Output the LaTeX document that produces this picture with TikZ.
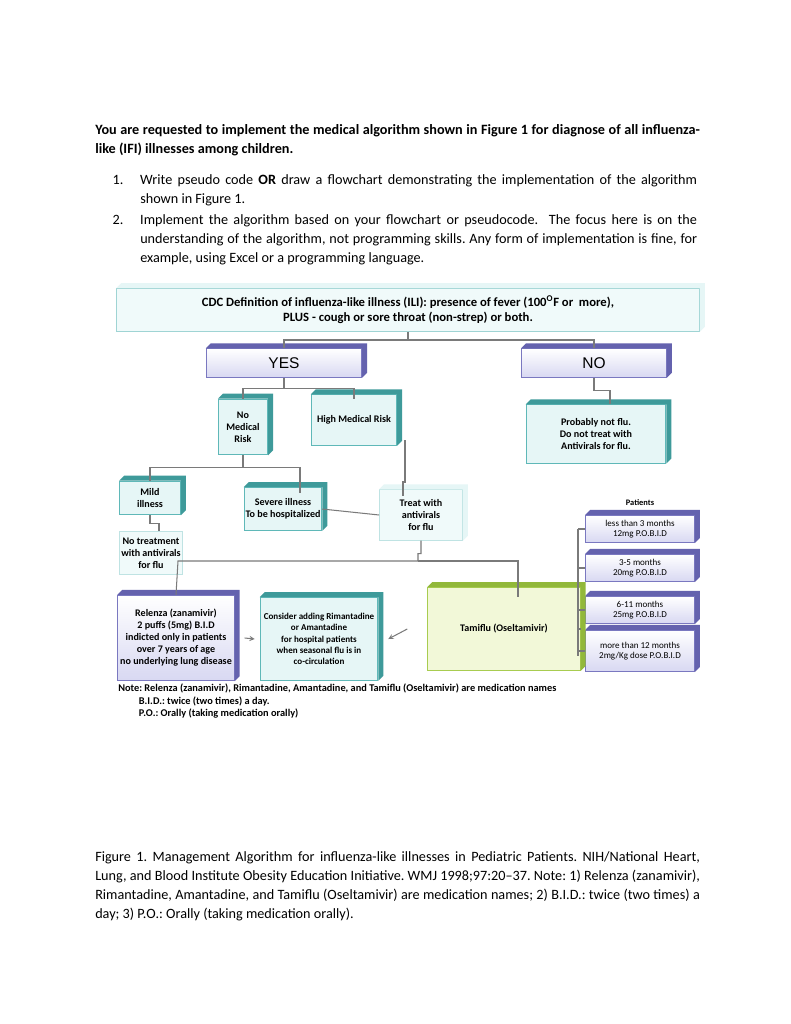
\documentclass[tikz,border=0pt]{standalone}
\usepackage{fontspec}
\setmainfont{Carlito}
\setsansfont{Liberation Sans}
\usetikzlibrary{calc}
\frenchspacing
\newcommand\pagefont{\fontsize{11}{14.7}\selectfont}
\definecolor{tealline}{HTML}{5FB8B8}
\definecolor{tealfill}{HTML}{E6F6F6}
\definecolor{tealdark}{HTML}{3E9A9A}
\definecolor{lavline}{HTML}{7A78C0}
\definecolor{lavfill}{HTML}{D8D8F2}
\definecolor{lavdark}{HTML}{6462AE}
\definecolor{limeline}{HTML}{A8CC50}
\definecolor{limefill}{HTML}{F2F8D8}
\definecolor{limedark}{HTML}{92B83A}
\definecolor{wire}{HTML}{7A7A7A}
\tikzset{
  pagetext/.style={anchor=north west,inner sep=0pt,align=justify,font=\pagefont},
  chartbox/.style={draw,line width=0.8pt,inner sep=1pt,align=center,font=\fontsize{7.8}{9.3}\selectfont\bfseries},
  tealbox/.style={chartbox,draw=tealline,fill=tealfill},
  lavbox/.style={chartbox,draw=lavline,top color=white,bottom color=lavfill},
  limebox/.style={chartbox,draw=limeline,fill=limefill},
  wire/.style={draw=wire,line width=0.8pt},
}
\begin{document}
\begin{tikzpicture}[x=0.774pt,y=-0.774pt]
\useasboundingbox[fill=white] (0,0) rectangle (791,1024);
% page text
\node (intro) [pagetext,text width=468pt] at (95,124) {\bfseries You are requested to implement the medical algorithm shown in Figure 1 for diagnose of all influenza-\linebreak like (IFI) illnesses among children.};
\node (item1) [pagetext,text width=431pt] at (140,174) {\hyphenpenalty=10000 \llap{1.\hspace{13pt}}Write pseudo code \textbf{OR} draw a flowchart demonstrating the implementation of the algorithm shown in Figure 1.};
\node (item2) [pagetext,text width=431pt] at (140,214) {\hyphenpenalty=10000 \llap{2.\hspace{13pt}}Implement the algorithm based on your flowchart or pseudocode.\ \ The focus here is on the\linebreak understanding of the algorithm, not programming skills. Any form of implementation is fine, for example, using Excel or a programming language.};
% chart boxes
\node (cdc) [chartbox,draw=tealline!60,fill=tealfill!60,minimum width=451pt,minimum height=33pt,font=\fontsize{9.8}{12}\selectfont\bfseries] at (408,310) {CDC Definition of influenza-like illness (ILI): presence of fever (100\textsuperscript{O}F or\ \ more),\\ PLUS - cough or sore throat (non-strep) or both.};
\node (yes) [lavbox,minimum width=120pt,minimum height=22pt,font=\fontsize{12}{14}\sffamily] at (284,363) {YES};
\node (no) [lavbox,minimum width=112pt,minimum height=22pt,font=\fontsize{12}{14}\sffamily] at (594,363) {NO};
\node (nomed) [tealbox,minimum width=38pt,minimum height=43pt] at (243,427) {No\\Medical\\Risk};
\node (highmed) [tealbox,minimum width=66pt,minimum height=39pt] at (354,420) {High Medical Risk};
\node (notflu) [tealbox,minimum width=108pt,minimum height=45pt] at (596,434) {Probably not flu.\\Do not treat with\\Antivirals for flu.};
\node (mild) [tealbox,minimum width=47pt,minimum height=26pt] at (150,498) {Mild\\illness};
\node (notreat) [chartbox,draw=tealline!40,fill=tealfill!60,minimum width=49pt,minimum height=34pt] at (151,553) {No treatment\\with antivirals\\for flu};
\node (severe) [tealbox,minimum width=57pt,minimum height=33pt] at (283,509) {Severe illness\\To be hospitalized};
\node (treat) [chartbox,draw=tealline!40,fill=tealfill!60,minimum width=64pt,minimum height=39pt] at (421,515) {Treat with\\antivirals\\for flu};
\node (patients) [font=\fontsize{6.5}{8}\selectfont\bfseries,inner sep=0pt] at (640,503) {Patients};
\node (p1) [lavbox,minimum width=84pt,minimum height=21pt,font=\fontsize{7}{8.2}\selectfont] at (640,529) {less than 3 months\\12mg P.O.B.I.D};
\node (p2) [lavbox,minimum width=84pt,minimum height=21pt,font=\fontsize{7}{8.2}\selectfont] at (640,568) {3-5 months\\20mg P.O.B.I.D};
\node (p3) [lavbox,minimum width=84pt,minimum height=21pt,font=\fontsize{7}{8.2}\selectfont] at (640,610) {6-11 months\\25mg P.O.B.I.D};
\node (p4) [lavbox,minimum width=84pt,minimum height=32pt,font=\fontsize{7}{8.2}\selectfont] at (640,651) {more than 12 months\\2mg/Kg dose P.O.B.I.D};
\node (relenza) [lavbox,minimum width=90pt,minimum height=66pt] at (176,638) {Relenza (zanamivir)\\2 puffs (5mg) B.I.D\\indicted only in patients\\over 7 years of age\\no underlying lung disease};
\node (consider) [tealbox,minimum width=91pt,minimum height=64pt,font=\fontsize{7}{8.8}\selectfont\bfseries] at (319,639) {Consider adding Rimantadine\\or Amantadine\\for hospital patients\\when seasonal flu is in\\co-circulation};
\node (tamiflu) [limebox,minimum width=118pt,minimum height=64pt] at (504,629) {Tamiflu (Oseltamivir)};
% bevels on top and right
\foreach \n/\c in {cdc/tealfill,yes/lavdark,no/lavdark,nomed/tealdark,highmed/tealdark,notflu/tealdark,mild/tealdark,severe/tealdark,treat/tealfill,p1/lavdark,p2/lavdark,p3/lavdark,p4/lavdark,relenza/lavdark,consider/tealdark,tamiflu/limedark} {
  \fill[\c] (\n.north west) -- ++(5,-5) -| ($(\n.south east)+(5,-5)$) -- (\n.south east) |- cycle;
}
% connectors
\coordinate (j1) at (408,340);
\draw[wire] (cdc.south) -- (j1) -| (yes.north);
\draw[wire] (j1) -| (no.north);
\draw[wire] (yes.south) -- ++(0,11) -| (nomed.north);
\draw[wire] (yes.south) ++(0,11) -| (354,399);
\draw[wire] (no.south) -- ++(0,13) -| ($(notflu.north)+(14,0)$);
\draw[wire] (nomed.south) -- ++(0,12) -| (mild.north);
\draw[wire] (nomed.south) ++(0,12) -| (300,492.5);
\draw[wire] (405,440) -- (405,482) -- (403,482) -- (403,495.5);
\draw[wire] (mild.south) -- ++(0,8) -| ($(notreat.north)+(8,0)$);
\draw[wire] (severe.east) -- (treat.west);
\draw[wire] (treat.south) -- ++(0,13) -| (418,561) -- (178,561) -- (relenza.north);
\draw[wire] (418,561) -| (518,597);
\draw[wire,-stealth] (relenza.east) ++(10,0) -- ($(consider.west)+(-5,0)$);
\draw[wire,-stealth] (tamiflu.west) ++(-20,0) -- ($(consider.east)+(10,0)$);
\draw[wire] (tamiflu.east) -- (578,629);
\draw[wire] (578,529) -- (578,656);
\foreach \p in {p1,p2,p3,p4} {\draw[wire] (578,0 |- \p.west) -- (\p.west);}
% note
\node (note) [anchor=north west,inner sep=0pt,align=left,font=\fontsize{8}{9.6}\selectfont\bfseries] at (118,684) {Note: Relenza (zanamivir), Rimantadine, Amantadine, and Tamiflu (Oseltamivir) are medication names\\\hspace*{16pt}B.I.D.: twice (two times) a day.\\\hspace*{16pt}P.O.: Orally (taking medication orally)};
% caption
\node (caption) [pagetext,text width=468pt] at (95,851) {\hyphenpenalty=10000 Figure 1. Management Algorithm for influenza-like illnesses in Pediatric Patients. NIH/National Heart,\linebreak Lung, and Blood Institute Obesity Education Initiative. WMJ 1998;97:20--37. Note: 1) Relenza (zanamivir),\linebreak Rimantadine, Amantadine, and Tamiflu (Oseltamivir) are medication names; 2) B.I.D.: twice (two times) a\linebreak day; 3) P.O.: Orally (taking medication orally).};
\end{tikzpicture}
\end{document}
